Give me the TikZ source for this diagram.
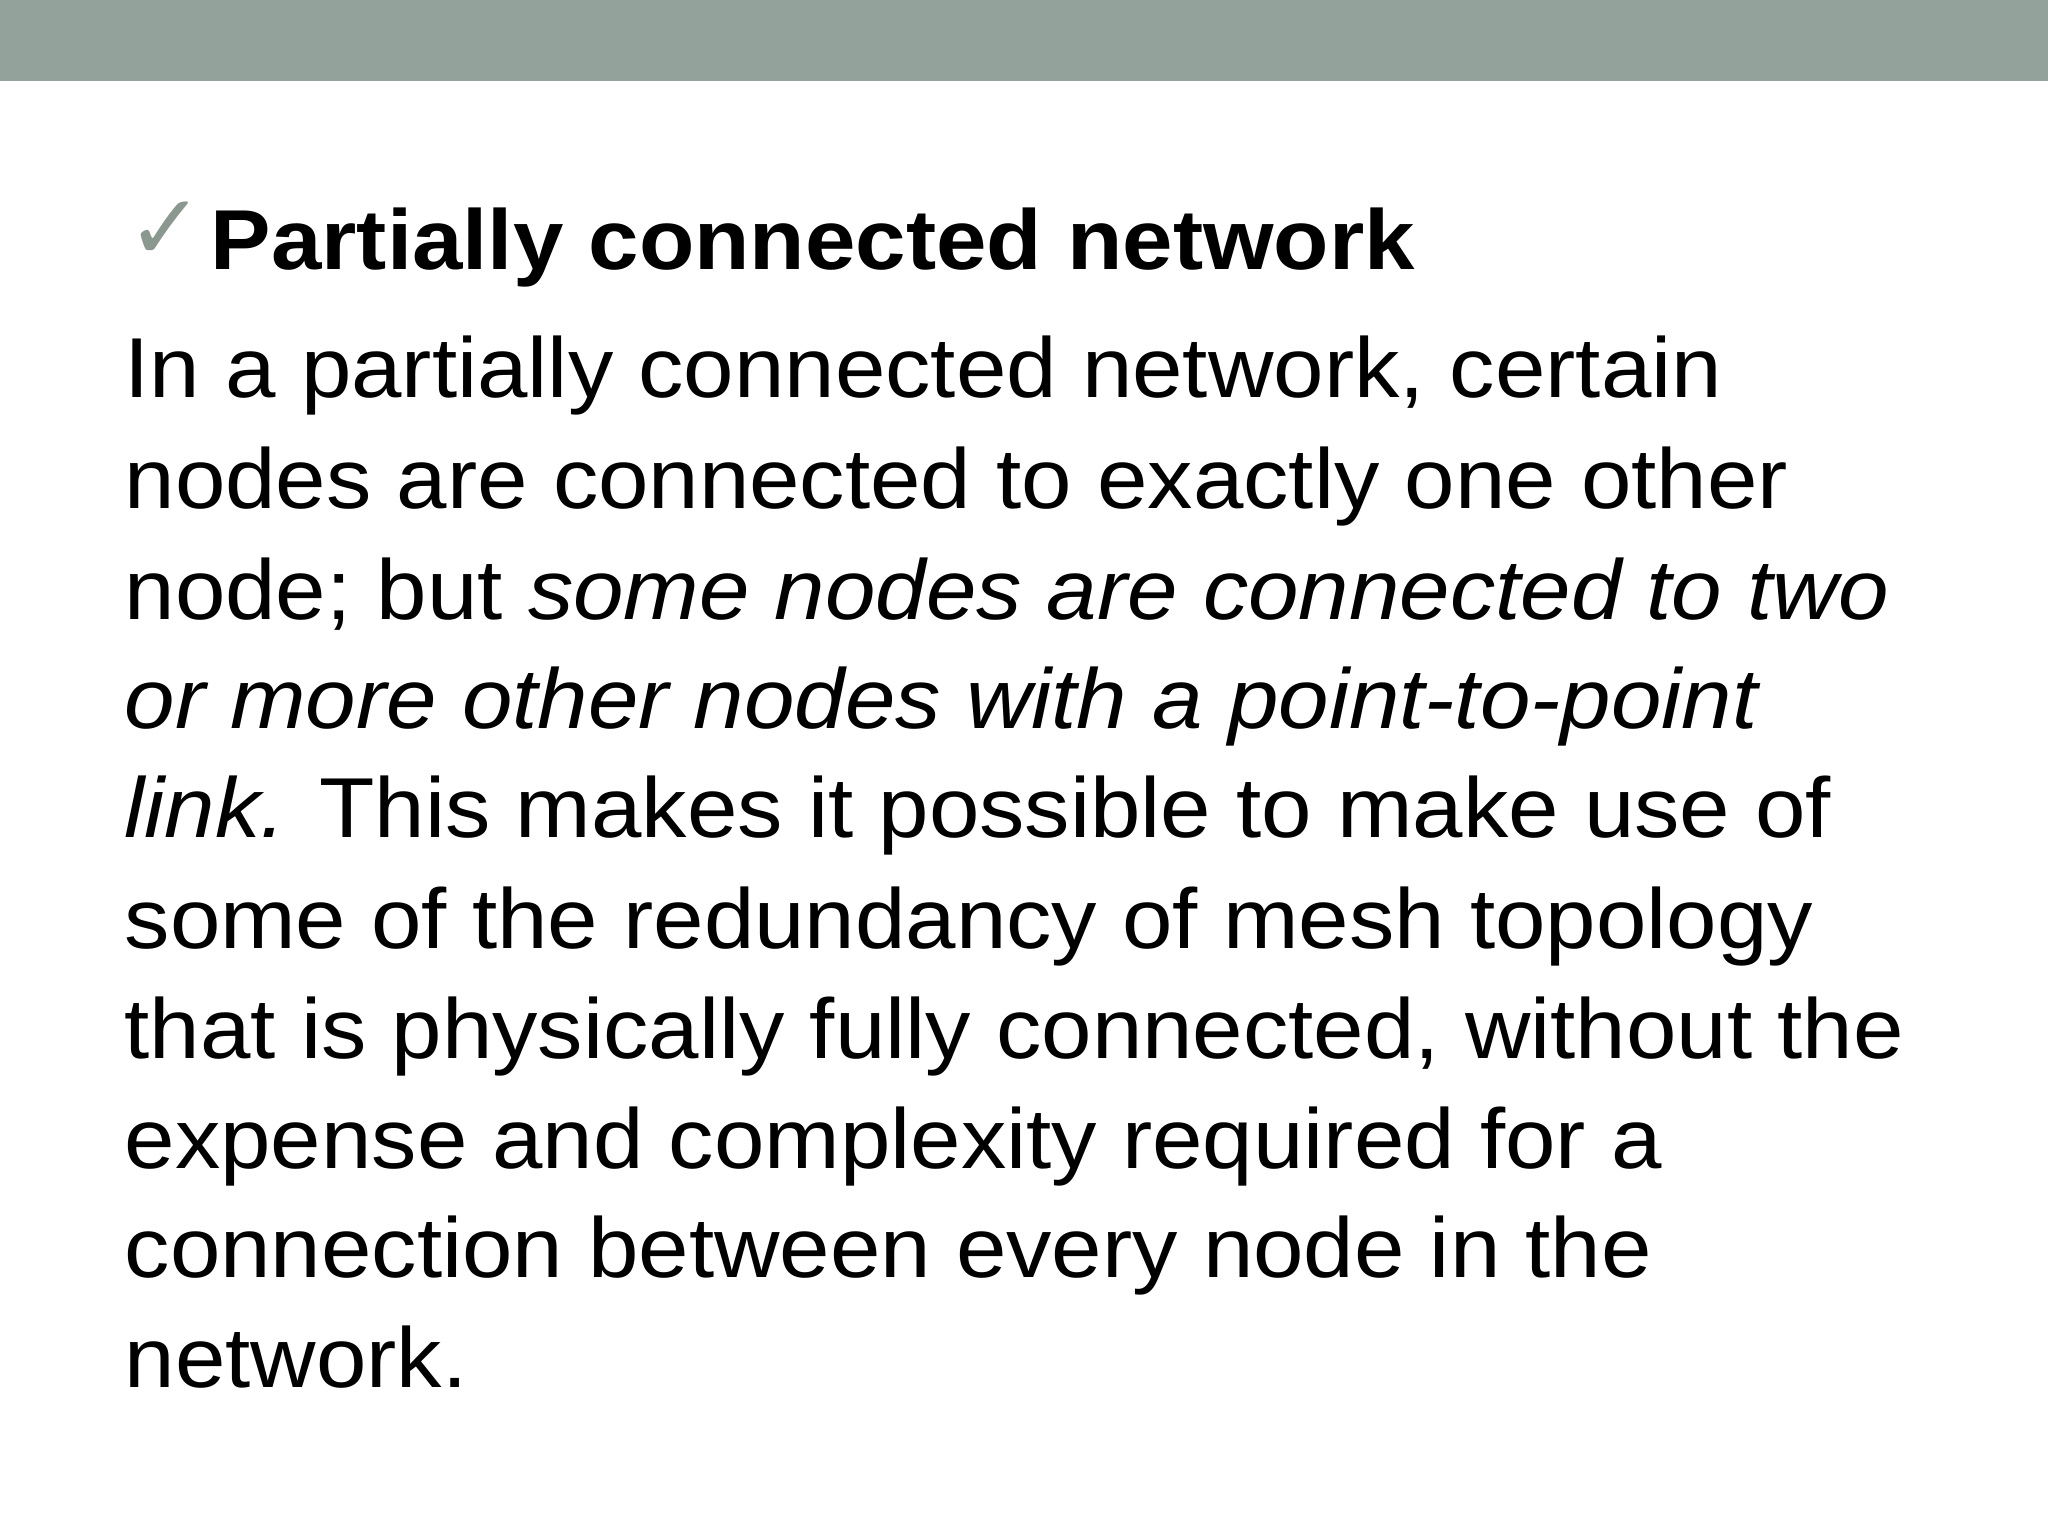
\documentclass[tikz,border=0pt]{standalone}
\usepackage{fontspec}
\setmainfont[FakeStretch=1.066]{Liberation Sans}
\newfontfamily\symfont{DejaVu Sans}
\definecolor{barcol}{HTML}{93A39B}
\definecolor{chkcol}{HTML}{8A9890}
\begin{document}
\begin{tikzpicture}[x=1cm,y=1cm,
  bodyline/.style={anchor=base west,inner sep=0pt,font=\fontsize{24.2}{30}\selectfont}]
\useasboundingbox (0,0) rectangle (20.48,-15.36);
\fill[white] (0,0) rectangle (20.48,-15.36);
\fill[barcol] (0,0) rectangle (20.48,-0.81);
\node[anchor=base west,inner sep=0pt,text=chkcol,font=\symfont\fontsize{26}{28}\selectfont] (chk) at (1.27,-2.60) {✓};
\node[bodyline,font=\fontsize{24.2}{30}\selectfont\bfseries] (head) at (2.10,-2.70) {Partially connected network};
\node[bodyline] (l1) at (1.24,-3.98) {In a partially connected network, certain};
\node[bodyline] (l2) at (1.24,-5.09) {nodes are connected to exactly one other};
\node[bodyline] (l3) at (1.24,-6.19) {node; but \textit{some nodes are connected to two}};
\node[bodyline] (l4) at (1.24,-7.29) {\textit{or more other nodes with a point-to-point}};
\node[bodyline] (l5) at (1.24,-8.38) {{\itshape link.} This makes it possible to make use of};
\node[bodyline] (l6) at (1.24,-9.48) {some of the redundancy of mesh topology};
\node[bodyline] (l7) at (1.24,-10.58) {that is physically fully connected, without the};
\node[bodyline] (l8) at (1.24,-11.68) {expense and complexity required for a};
\node[bodyline] (l9) at (1.24,-12.77) {connection between every node in the};
\node[bodyline] (l10) at (1.24,-13.87) {network.};
\end{tikzpicture}
\end{document}
